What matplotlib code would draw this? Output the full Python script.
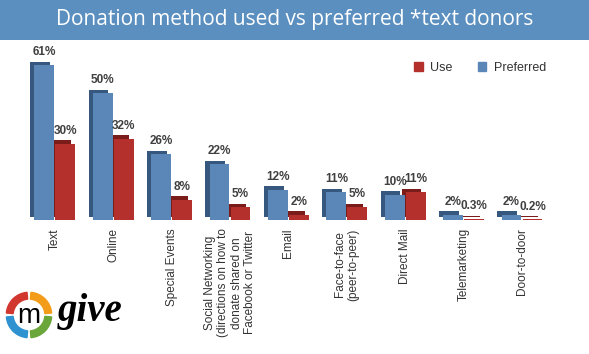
import numpy as np
import matplotlib.pyplot as plt
import matplotlib.transforms as mtransforms
from matplotlib.patches import Rectangle, Wedge

categories = ["Text", "Online", "Special Events",
              "Social Networking\n(directions on how to\ndonate shared on\nFacebook or Twitter",
              "Email", "Face-to-face\n(peer-to-peer)", "Direct Mail",
              "Telemarketing", "Door-to-door"]
preferred = [61, 50, 26, 22, 12, 11, 10, 2, 2]
use = [30, 32, 8, 5, 2, 5, 11, 0.3, 0.2]
preferred_lbl = ["61%", "50%", "26%", "22%", "12%", "11%", "10%", "2%", "2%"]
use_lbl = ["30%", "32%", "8%", "5%", "2%", "5%", "11%", "0.3%", "0.2%"]

plt.rcParams['font.family'] = ['Liberation Sans', 'DejaVu Sans']

fig = plt.figure(figsize=(5.89, 3.54), dpi=100)
W, H = 589, 354

# title banner
fig.patches.append(Rectangle((0, 1 - 40 / H), 1, 40 / H, transform=fig.transFigure,
                             facecolor='#5a8fbf', edgecolor='none', zorder=0))
fig.text(0.5, 1 - 19 / H, "Donation method used vs preferred *text donors",
         ha='center', va='center', color='white', fontsize=15,
         family=['Open Sans', 'DejaVu Sans'])

ax = fig.add_axes([25 / W, 134 / H, 535 / W, 170 / H])
x = np.arange(len(categories))
w = 0.34
off = 0.18

blue, blue_dark = '#5b87b8', '#36587f'
red, red_dark = '#b3302c', '#7a1c1a'

# shadow offset to fake the 3D look
shift = mtransforms.ScaledTranslation(-3 / 72, 2.5 / 72, fig.dpi_scale_trans)

for xs, vals, c, cd, lbls in [(x - off, preferred, blue, blue_dark, preferred_lbl),
                              (x + off, use, red, red_dark, use_lbl)]:
    ax.bar(xs, vals, width=w, color=cd, zorder=2, transform=ax.transData + shift)
    ax.bar(xs, vals, width=w, color=c, zorder=3)
    for xi, v, t in zip(xs, vals, lbls):
        ax.annotate(t, (xi, v), xytext=(0, 5), textcoords='offset points',
                    ha='center', va='bottom', fontsize=8.5, fontweight='bold',
                    color='#404040')

ax.set_xlim(-0.51, 8.65)
ax.set_ylim(0, 67)
ax.set_xticks(x)
ax.set_xticklabels(categories, rotation=90, fontsize=8.5, color='#333333',
                   va='top', ha='center', linespacing=1.15)
ax.tick_params(axis='x', length=0, pad=6)
ax.set_yticks([])
for s in ax.spines.values():
    s.set_visible(False)

# legend
h1 = Rectangle((0, 0), 1, 1, color=red)
h2 = Rectangle((0, 0), 1, 1, color=blue)
fig.legend([h1, h2], ["Use", "Preferred"], ncol=2, frameon=False,
           loc='center', bbox_to_anchor=(480 / W, 1 - 68 / H), fontsize=9,
           handlelength=0.7, handleheight=0.7, columnspacing=2.0, handletextpad=0.6,
           labelcolor='#333333')

# mgive logo
lax = fig.add_axes([4 / W, 1 - 342 / H, 50 / W, 54 / H])
lax.set_xlim(-1.1, 1.1)
lax.set_ylim(-1.1, 1.1)
lax.set_aspect('equal')
lax.axis('off')
for a0, col in [(90, '#d2372f'), (0, '#f39c1a'), (180, '#2f92d0'), (270, '#6aa63a')]:
    lax.add_patch(Wedge((0, 0), 1.0, a0 + 5, a0 + 85, width=0.3, color=col))
lax.text(0, -0.05, "m", ha='center', va='center', fontsize=20, color='black')
fig.text(58 / W, 1 - 312 / H, "give", ha='left', va='center', fontsize=28,
         fontweight='bold', style='italic', family=['Liberation Serif', 'DejaVu Serif'])

fig.savefig('out.png', dpi=100)
